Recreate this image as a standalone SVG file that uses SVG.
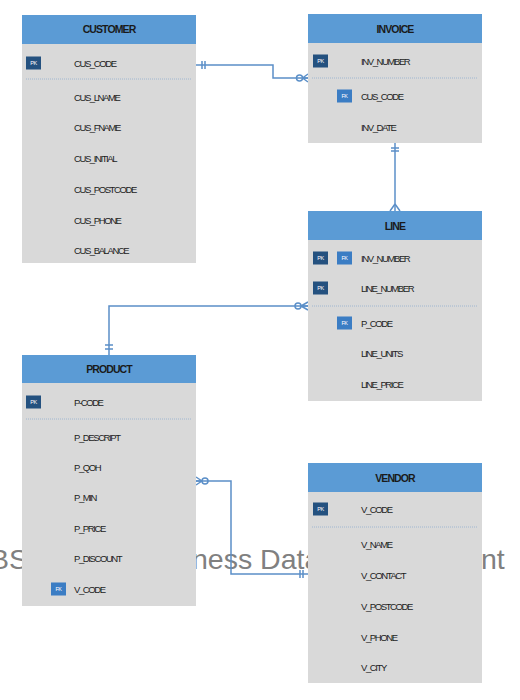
<svg xmlns="http://www.w3.org/2000/svg" width="520" height="700" viewBox="0 0 520 700">
<style>
.body{fill:#d9d9d9}
.head{fill:#5b9bd5}
.ht{font-family:"Liberation Sans",Arial,sans-serif;font-size:10.5px;font-weight:bold;letter-spacing:-0.9px;fill:#1a1a1a;text-anchor:middle}
.t{font-family:"Liberation Sans",Arial,sans-serif;font-size:9.5px;letter-spacing:-1.4px;fill:#222}
.pk{fill:#24517f}
.fk{fill:#3b7dc4}
.bt{font-family:"Liberation Sans",Arial,sans-serif;font-size:5.5px;letter-spacing:-0.4px;fill:#fff;text-anchor:middle}
.sep{stroke:#9fb6d0;stroke-width:1;stroke-dasharray:1 1}
.wm{font-family:"Liberation Sans",Arial,sans-serif;font-size:28.5px;fill:#808080}
.c{fill:none;stroke:#5b8fc8;stroke-width:1.5}
</style>
<rect width="520" height="700" fill="#fff"/>
<g id="watermark">
<text class="wm" x="-10" y="569">BS</text>
<text class="wm" x="192" y="569">ness Data</text>
<text class="wm" x="481" y="569">nt</text>
</g>
<g id="connectors">
<path class="c" d="M196,65 H273 V78 H308"/>
<path class="c" d="M202,61 V69 M205,61 V69"/>
<circle class="c" cx="299.5" cy="78" r="3"/>
<path class="c" d="M302.5,78 L308,74 M302.5,78 L308,78 M302.5,78 L308,82"/>
<path class="c" d="M395,143 V211"/>
<path class="c" d="M391,148 H399 M391,151 H399"/>
<path class="c" d="M395,204 L390,211 M395,204 L400,211"/>
<path class="c" d="M308,306 H109 V355"/>
<circle class="c" cx="298" cy="306" r="3"/>
<path class="c" d="M301,306 L308,302 M301,306 L308,306 M301,306 L308,310"/>
<path class="c" d="M105,345 H113 M105,349 H113"/>
<path class="c" d="M196,481 H231 V574 H308"/>
<path class="c" d="M202,481 L196,477 M202,481 L196,481 M202,481 L196,485"/>
<circle class="c" cx="205" cy="481" r="3"/>
<path class="c" d="M300,570 V578 M303,570 V578"/>
</g>
<g id="customer">
<rect class="body" x="22" y="15" width="174" height="248"/>
<rect class="head" x="22" y="15" width="174" height="29"/>
<text class="ht" x="109" y="33">CUSTOMER</text>
<rect class="pk" x="26" y="56.5" width="15" height="13"/>
<text class="bt" x="33.5" y="65">PK</text>
<text class="t" x="74" y="66.5">CUS_CODE</text>
<line class="sep" x1="26" y1="79" x2="192" y2="79"/>
<text class="t" x="74" y="100.5">CUS_LNAME</text>
<text class="t" x="74" y="130.5">CUS_FNAME</text>
<text class="t" x="74" y="161.5">CUS_INITIAL</text>
<text class="t" x="74" y="192.5">CUS_POSTCODE</text>
<text class="t" x="74" y="223.5">CUS_PHONE</text>
<text class="t" x="74" y="253.5">CUS_BALANCE</text>
</g>
<g id="invoice">
<rect class="body" x="308" y="14" width="174" height="129"/>
<rect class="head" x="308" y="14" width="174" height="29"/>
<text class="ht" x="395" y="32.5">INVOICE</text>
<rect class="pk" x="313" y="54.5" width="15" height="13"/>
<text class="bt" x="320.5" y="63">PK</text>
<text class="t" x="361" y="64.5">INV_NUMBER</text>
<line class="sep" x1="312" y1="78" x2="478" y2="78"/>
<rect class="fk" x="337" y="89.5" width="15" height="13"/>
<text class="bt" x="344.5" y="98">FK</text>
<text class="t" x="361" y="99.5">CUS_CODE</text>
<text class="t" x="361" y="130.5">INV_DATE</text>
</g>
<g id="line">
<rect class="body" x="308" y="211" width="174" height="190"/>
<rect class="head" x="308" y="211" width="174" height="29"/>
<text class="ht" x="395" y="229.5">LINE</text>
<rect class="pk" x="313" y="251.5" width="15" height="13"/>
<text class="bt" x="320.5" y="260">PK</text>
<rect class="fk" x="337" y="251.5" width="15" height="13"/>
<text class="bt" x="344.5" y="260">FK</text>
<text class="t" x="361" y="261.5">INV_NUMBER</text>
<rect class="pk" x="313" y="281.5" width="15" height="13"/>
<text class="bt" x="320.5" y="290">PK</text>
<text class="t" x="361" y="291.5">LINE_NUMBER</text>
<line class="sep" x1="312" y1="306" x2="478" y2="306"/>
<rect class="fk" x="337" y="316.5" width="15" height="13"/>
<text class="bt" x="344.5" y="325">FK</text>
<text class="t" x="361" y="326.5">P_CODE</text>
<text class="t" x="361" y="356.5">LINE_UNITS</text>
<text class="t" x="361" y="387.5">LINE_PRICE</text>
</g>
<g id="product">
<rect class="body" x="22" y="355" width="174" height="251"/>
<rect class="head" x="22" y="355" width="174" height="28"/>
<text class="ht" x="109" y="373">PRODUCT</text>
<rect class="pk" x="26" y="395.5" width="15" height="13"/>
<text class="bt" x="33.5" y="404">PK</text>
<text class="t" x="74" y="405.5">P-CODE</text>
<line class="sep" x1="26" y1="419" x2="192" y2="419"/>
<text class="t" x="74" y="440.5">P_DESCRIPT</text>
<text class="t" x="74" y="470.5">P_QOH</text>
<text class="t" x="74" y="500.5">P_MIN</text>
<text class="t" x="74" y="531.5">P_PRICE</text>
<text class="t" x="74" y="561.5">P_DISCOUNT</text>
<rect class="fk" x="51" y="582.5" width="15" height="13"/>
<text class="bt" x="58.5" y="591">FK</text>
<text class="t" x="74" y="592.5">V_CODE</text>
</g>
<g id="vendor">
<rect class="body" x="308" y="463" width="174" height="220"/>
<rect class="head" x="308" y="463" width="174" height="29"/>
<text class="ht" x="395" y="481.5">VENDOR</text>
<rect class="pk" x="313" y="502.5" width="15" height="13"/>
<text class="bt" x="320.5" y="511">PK</text>
<text class="t" x="361" y="512.5">V_CODE</text>
<line class="sep" x1="312" y1="527" x2="478" y2="527"/>
<text class="t" x="361" y="547.5">V_NAME</text>
<text class="t" x="361" y="578.5">V_CONTACT</text>
<text class="t" x="361" y="609.5">V_POSTCODE</text>
<text class="t" x="361" y="640.5">V_PHONE</text>
<text class="t" x="361" y="670.5">V_CITY</text>
</g>
</svg>
